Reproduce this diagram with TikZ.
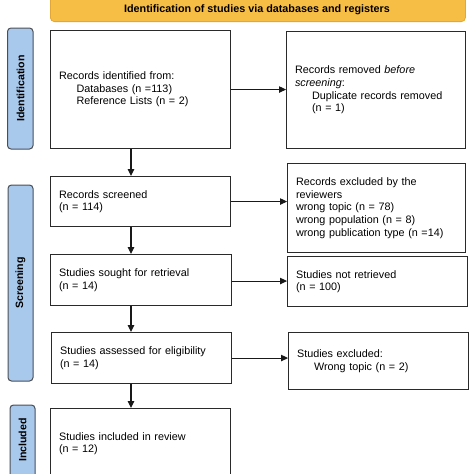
\documentclass[tikz,border=0pt]{standalone}
\usepackage{fontspec}
\setmainfont{Liberation Sans}
\usetikzlibrary{arrows.meta,calc}
\definecolor{hdr}{HTML}{F6BE45}
\definecolor{hdrline}{HTML}{E2A735}
\definecolor{side}{HTML}{A9C9EC}
\definecolor{sideline}{HTML}{4A4F57}
\definecolor{boxline}{HTML}{2A2A2A}
\tikzset{
  flowbox/.style={draw=boxline, line width=1.1pt, fill=white, anchor=north west,
    align=left, inner xsep=8.5pt, inner ysep=0pt, font=\fontsize{10.8}{12.6}\selectfont},
  sidebar/.style={draw=sideline, line width=1pt, fill=side, rounded corners=3.5pt},
  sidelabel/.style={rotate=90, font=\bfseries\fontsize{10.6}{12}\selectfont},
  flowarrow/.style={draw=black!90, line width=1.1pt, -{Triangle[length=7pt,width=6.5pt]}},
}
\begin{document}
\begin{tikzpicture}[x=1pt,y=-1pt]
\useasboundingbox (0,0) rectangle (474,474);
\begin{scope}
\clip (0,0) rectangle (474,474);
% header
\node[draw=hdrline, line width=0.8pt, fill=hdr, rounded corners=4pt, minimum width=415pt, minimum height=32pt, anchor=south west] (hdr) at (50,22) {};
\node[font=\bfseries\fontsize{10.8}{12}\selectfont] (hdrtext) at (257,9.5) {Identification of studies via databases and registers};
% side bars
\draw[sidebar] (7.5,28) rectangle (33,149);
\node[sidelabel] (lid) at (20.5,88.5) {Identification};
\draw[sidebar] (8,185) rectangle (33,381);
\node[sidelabel] (lsc) at (20.5,283) {Screening};
\draw[sidebar] (10,405) rectangle (35,500);
\node[sidelabel] (lin) at (22.5,440) {Included};
% boxes
\node[flowbox, minimum width=180pt, minimum height=118pt, text width=163pt] (b1) at (50,30)
  {Records identified from:\\\hspace*{17.5pt}Databases (n =113)\\\hspace*{17.5pt}Reference Lists (n = 2)};
\node[flowbox, minimum width=179pt, minimum height=117pt, text width=162pt] (b2) at (286,31)
  {Records removed \textit{before}\\\textit{screening}:\\\hspace*{17pt}Duplicate records removed\\\hspace*{17pt}(n = 1)};
\node[flowbox, minimum width=180pt, minimum height=50pt, text width=163pt] (scr) at (50,176)
  {Records screened\\(n = 114)};
\node[flowbox, minimum width=178pt, minimum height=89pt, text width=161pt] (exc) at (287,163)
  {Records excluded by the\\reviewers\\wrong topic (n = 78)\\wrong population (n = 8)\\wrong publication type (n =14)};
\node[flowbox, minimum width=181pt, minimum height=51pt, text width=164pt] (sought) at (50,254)
  {Studies sought for retrieval\\(n = 14)};
\node[flowbox, minimum width=180pt, minimum height=50pt, text width=163pt] (nr) at (287,256)
  {Studies not retrieved\\(n = 100)};
\node[flowbox, minimum width=180pt, minimum height=51pt, text width=163pt] (ass) at (51,332)
  {Studies assessed for eligibility\\(n = 14)};
\node[flowbox, minimum width=180pt, minimum height=57pt, text width=163pt] (ex2) at (288,332)
  {Studies excluded:\\\hspace*{17pt}Wrong topic (n = 2)};
\node[flowbox, minimum width=180pt, minimum height=70pt, text width=163pt] (inc) at (50,408)
  {Studies included in review\\(n = 12)};
% arrows
\coordinate (ax) at (131,0);
\draw[flowarrow] (b1.east) -- (b1.east -| b2.west);
\draw[flowarrow] (scr.east) -- (scr.east -| exc.west);
\draw[flowarrow] ($(sought.east)+(0,1)$) -- ($(sought.east -| nr.west)+(0,1)$);
\draw[flowarrow] (ass.east) -- (ass.east -| ex2.west);
\draw[flowarrow] (b1.south -| ax) -- (scr.north -| ax);
\draw[flowarrow] (scr.south -| ax) -- (sought.north -| ax);
\draw[flowarrow] (sought.south -| ax) -- (ass.north -| ax);
\draw[flowarrow] (ass.south -| ax) -- (inc.north -| ax);
\end{scope}
\end{tikzpicture}
\end{document}
